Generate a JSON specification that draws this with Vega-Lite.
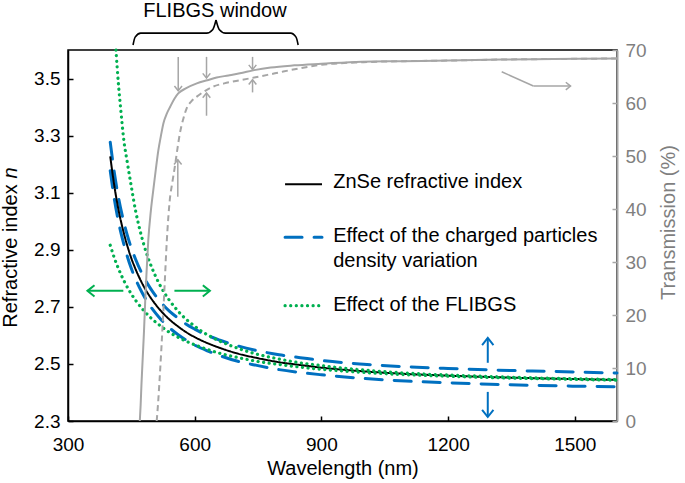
{
"$schema":"https://vega.github.io/schema/vega-lite/v6.json",
"width":549,"height":371,
"autosize":{"type":"none"},
"padding":{"left":68,"top":50,"right":68,"bottom":62},
"background":"white",
"config":{"font":"Liberation Sans","view":{"stroke":"black","strokeWidth":1.5},
"axis":{"grid":false,"labelFontSize":19,"titleFontSize":20,"titleFontWeight":"normal","labelFlush":false,"tickSize":-5,"domainWidth":1.5,"tickWidth":1.5,"labelOverlap":false}},
"datasets":{
"curves":[
{"series":"charged","curve":"bu","wl":400,"n":3.277},{"series":"charged","curve":"bu","wl":410,"n":3.167},{"series":"charged","curve":"bu","wl":420,"n":3.079},{"series":"charged","curve":"bu","wl":430,"n":3.010},{"series":"charged","curve":"bu","wl":440,"n":2.953},{"series":"charged","curve":"bu","wl":450,"n":2.906},{"series":"charged","curve":"bu","wl":460,"n":2.867},{"series":"charged","curve":"bu","wl":475,"n":2.817},{"series":"charged","curve":"bu","wl":490,"n":2.777},{"series":"charged","curve":"bu","wl":500,"n":2.754},{"series":"charged","curve":"bu","wl":520,"n":2.716},{"series":"charged","curve":"bu","wl":540,"n":2.685},{"series":"charged","curve":"bu","wl":560,"n":2.661},{"series":"charged","curve":"bu","wl":580,"n":2.639},{"series":"charged","curve":"bu","wl":600,"n":2.622},{"series":"charged","curve":"bu","wl":630,"n":2.600},{"series":"charged","curve":"bu","wl":660,"n":2.583},{"series":"charged","curve":"bu","wl":700,"n":2.564},{"series":"charged","curve":"bu","wl":750,"n":2.546},{"series":"charged","curve":"bu","wl":800,"n":2.532},{"series":"charged","curve":"bu","wl":850,"n":2.522},{"series":"charged","curve":"bu","wl":900,"n":2.512},{"series":"charged","curve":"bu","wl":1000,"n":2.499},{"series":"charged","curve":"bu","wl":1100,"n":2.490},{"series":"charged","curve":"bu","wl":1200,"n":2.484},{"series":"charged","curve":"bu","wl":1300,"n":2.479},{"series":"charged","curve":"bu","wl":1400,"n":2.475},{"series":"charged","curve":"bu","wl":1500,"n":2.472},{"series":"charged","curve":"bu","wl":1600,"n":2.468},
{"series":"charged","curve":"bl","wl":400,"n":3.177},{"series":"charged","curve":"bl","wl":410,"n":3.075},{"series":"charged","curve":"bl","wl":420,"n":2.995},{"series":"charged","curve":"bl","wl":430,"n":2.932},{"series":"charged","curve":"bl","wl":440,"n":2.879},{"series":"charged","curve":"bl","wl":450,"n":2.834},{"series":"charged","curve":"bl","wl":460,"n":2.797},{"series":"charged","curve":"bl","wl":475,"n":2.751},{"series":"charged","curve":"bl","wl":490,"n":2.713},{"series":"charged","curve":"bl","wl":500,"n":2.692},{"series":"charged","curve":"bl","wl":520,"n":2.656},{"series":"charged","curve":"bl","wl":540,"n":2.627},{"series":"charged","curve":"bl","wl":560,"n":2.603},{"series":"charged","curve":"bl","wl":580,"n":2.583},{"series":"charged","curve":"bl","wl":600,"n":2.566},{"series":"charged","curve":"bl","wl":630,"n":2.546},{"series":"charged","curve":"bl","wl":660,"n":2.529},{"series":"charged","curve":"bl","wl":700,"n":2.510},{"series":"charged","curve":"bl","wl":750,"n":2.494},{"series":"charged","curve":"bl","wl":800,"n":2.480},{"series":"charged","curve":"bl","wl":850,"n":2.470},{"series":"charged","curve":"bl","wl":900,"n":2.462},{"series":"charged","curve":"bl","wl":1000,"n":2.449},{"series":"charged","curve":"bl","wl":1100,"n":2.440},{"series":"charged","curve":"bl","wl":1200,"n":2.434},{"series":"charged","curve":"bl","wl":1300,"n":2.429},{"series":"charged","curve":"bl","wl":1400,"n":2.425},{"series":"charged","curve":"bl","wl":1500,"n":2.422},{"series":"charged","curve":"bl","wl":1600,"n":2.420},
{"series":"charged","curve":"leg","wl":814,"n":2.944},{"series":"charged","curve":"leg","wl":901.5,"n":2.944},
{"series":"ZnSe","curve":"k","wl":400,"n":3.227},{"series":"ZnSe","curve":"k","wl":410,"n":3.121},{"series":"ZnSe","curve":"k","wl":420,"n":3.037},{"series":"ZnSe","curve":"k","wl":430,"n":2.971},{"series":"ZnSe","curve":"k","wl":440,"n":2.916},{"series":"ZnSe","curve":"k","wl":450,"n":2.870},{"series":"ZnSe","curve":"k","wl":460,"n":2.832},{"series":"ZnSe","curve":"k","wl":475,"n":2.784},{"series":"ZnSe","curve":"k","wl":490,"n":2.745},{"series":"ZnSe","curve":"k","wl":500,"n":2.723},{"series":"ZnSe","curve":"k","wl":520,"n":2.686},{"series":"ZnSe","curve":"k","wl":540,"n":2.656},{"series":"ZnSe","curve":"k","wl":560,"n":2.632},{"series":"ZnSe","curve":"k","wl":580,"n":2.611},{"series":"ZnSe","curve":"k","wl":600,"n":2.594},{"series":"ZnSe","curve":"k","wl":630,"n":2.573},{"series":"ZnSe","curve":"k","wl":660,"n":2.556},{"series":"ZnSe","curve":"k","wl":700,"n":2.537},{"series":"ZnSe","curve":"k","wl":750,"n":2.520},{"series":"ZnSe","curve":"k","wl":800,"n":2.506},{"series":"ZnSe","curve":"k","wl":850,"n":2.496},{"series":"ZnSe","curve":"k","wl":900,"n":2.487},{"series":"ZnSe","curve":"k","wl":1000,"n":2.474},{"series":"ZnSe","curve":"k","wl":1100,"n":2.465},{"series":"ZnSe","curve":"k","wl":1200,"n":2.459},{"series":"ZnSe","curve":"k","wl":1300,"n":2.454},{"series":"ZnSe","curve":"k","wl":1400,"n":2.450},{"series":"ZnSe","curve":"k","wl":1500,"n":2.447},{"series":"ZnSe","curve":"k","wl":1600,"n":2.444},
{"series":"ZnSe","curve":"leg","wl":814,"n":3.130},{"series":"ZnSe","curve":"leg","wl":901.5,"n":3.130},
{"series":"FLIBGS","curve":"gr","wl":413.5,"n":3.600},{"series":"FLIBGS","curve":"gr","wl":420,"n":3.470},{"series":"FLIBGS","curve":"gr","wl":425,"n":3.390},{"series":"FLIBGS","curve":"gr","wl":432,"n":3.286},{"series":"FLIBGS","curve":"gr","wl":440,"n":3.210},{"series":"FLIBGS","curve":"gr","wl":450,"n":3.121},{"series":"FLIBGS","curve":"gr","wl":460,"n":3.037},{"series":"FLIBGS","curve":"gr","wl":470,"n":2.971},{"series":"FLIBGS","curve":"gr","wl":480,"n":2.916},{"series":"FLIBGS","curve":"gr","wl":490,"n":2.870},{"series":"FLIBGS","curve":"gr","wl":500,"n":2.832},{"series":"FLIBGS","curve":"gr","wl":515,"n":2.784},{"series":"FLIBGS","curve":"gr","wl":530,"n":2.745},{"series":"FLIBGS","curve":"gr","wl":540,"n":2.723},{"series":"FLIBGS","curve":"gr","wl":560,"n":2.686},{"series":"FLIBGS","curve":"gr","wl":580,"n":2.656},{"series":"FLIBGS","curve":"gr","wl":600,"n":2.632},{"series":"FLIBGS","curve":"gr","wl":620,"n":2.611},{"series":"FLIBGS","curve":"gr","wl":640,"n":2.594},{"series":"FLIBGS","curve":"gr","wl":670,"n":2.573},{"series":"FLIBGS","curve":"gr","wl":700,"n":2.556},{"series":"FLIBGS","curve":"gr","wl":740,"n":2.537},{"series":"FLIBGS","curve":"gr","wl":790,"n":2.520},{"series":"FLIBGS","curve":"gr","wl":840,"n":2.506},{"series":"FLIBGS","curve":"gr","wl":890,"n":2.496},{"series":"FLIBGS","curve":"gr","wl":940,"n":2.487},{"series":"FLIBGS","curve":"gr","wl":1040,"n":2.474},{"series":"FLIBGS","curve":"gr","wl":1140,"n":2.465},{"series":"FLIBGS","curve":"gr","wl":1240,"n":2.459},{"series":"FLIBGS","curve":"gr","wl":1340,"n":2.454},{"series":"FLIBGS","curve":"gr","wl":1440,"n":2.450},{"series":"FLIBGS","curve":"gr","wl":1540,"n":2.447},{"series":"FLIBGS","curve":"gr","wl":1600,"n":2.445},
{"series":"FLIBGS","curve":"gl","wl":400,"n":2.916},{"series":"FLIBGS","curve":"gl","wl":410,"n":2.870},{"series":"FLIBGS","curve":"gl","wl":420,"n":2.832},{"series":"FLIBGS","curve":"gl","wl":435,"n":2.784},{"series":"FLIBGS","curve":"gl","wl":450,"n":2.745},{"series":"FLIBGS","curve":"gl","wl":460,"n":2.723},{"series":"FLIBGS","curve":"gl","wl":480,"n":2.686},{"series":"FLIBGS","curve":"gl","wl":500,"n":2.656},{"series":"FLIBGS","curve":"gl","wl":520,"n":2.632},{"series":"FLIBGS","curve":"gl","wl":540,"n":2.611},{"series":"FLIBGS","curve":"gl","wl":560,"n":2.594},{"series":"FLIBGS","curve":"gl","wl":590,"n":2.573},{"series":"FLIBGS","curve":"gl","wl":620,"n":2.556},{"series":"FLIBGS","curve":"gl","wl":660,"n":2.537},{"series":"FLIBGS","curve":"gl","wl":710,"n":2.520},{"series":"FLIBGS","curve":"gl","wl":760,"n":2.506},{"series":"FLIBGS","curve":"gl","wl":810,"n":2.496},{"series":"FLIBGS","curve":"gl","wl":860,"n":2.487},{"series":"FLIBGS","curve":"gl","wl":960,"n":2.474},{"series":"FLIBGS","curve":"gl","wl":1060,"n":2.465},{"series":"FLIBGS","curve":"gl","wl":1160,"n":2.459},{"series":"FLIBGS","curve":"gl","wl":1260,"n":2.454},{"series":"FLIBGS","curve":"gl","wl":1360,"n":2.450},{"series":"FLIBGS","curve":"gl","wl":1460,"n":2.447},{"series":"FLIBGS","curve":"gl","wl":1560,"n":2.444},{"series":"FLIBGS","curve":"gl","wl":1600,"n":2.443},
{"series":"FLIBGS","curve":"leg","wl":814,"n":2.704},{"series":"FLIBGS","curve":"leg","wl":901.5,"n":2.704}
],
"legendText":[
{"label":"ZnSe refractive index","wl":928,"n":3.136},
{"label":"Effect of the charged particles","wl":928,"n":2.948},
{"label":"density variation","wl":928,"n":2.862},
{"label":"Effect of the FLIBGS","wl":928,"n":2.708}
],
"arrowsN":[
{"series":"FLIBGS","wl":431,"n":2.756,"wl2":346,"n2":2.756,"dir":"left"},
{"series":"FLIBGS","wl":552,"n":2.756,"wl2":636,"n2":2.756,"dir":"right"},
{"series":"charged","wl":1294,"n":2.504,"wl2":1294,"n2":2.591,"dir":"up"},
{"series":"charged","wl":1294,"n":2.402,"wl2":1294,"n2":2.314,"dir":"down"}
],
"brace":[
{"half":"L","wl":454,"n":3.6175},{"half":"L","wl":459,"n":3.645},{"half":"L","wl":472,"n":3.659},{"half":"L","wl":628,"n":3.659},{"half":"L","wl":643,"n":3.672},{"half":"L","wl":650.5,"n":3.705},
{"half":"R","wl":650.5,"n":3.705},{"half":"R","wl":658,"n":3.672},{"half":"R","wl":673,"n":3.659},{"half":"R","wl":827,"n":3.659},{"half":"R","wl":840,"n":3.645},{"half":"R","wl":845,"n":3.6175}
],
"windowLabel":[{"label":"FLIBGS window","wl":648,"n":3.735}],
"italicN":[{"label":"n","wl":165,"n":3.169}],
"trans":[
{"curve":"solid","wl":470,"T":0},{"curve":"solid","wl":472,"T":3},{"curve":"solid","wl":474,"T":7},{"curve":"solid","wl":477,"T":12},{"curve":"solid","wl":480,"T":17},{"curve":"solid","wl":483,"T":23},{"curve":"solid","wl":486,"T":28},{"curve":"solid","wl":490,"T":34},{"curve":"solid","wl":496,"T":39.5},{"curve":"solid","wl":502,"T":43.6},{"curve":"solid","wl":508,"T":47.5},{"curve":"solid","wl":514,"T":51.1},{"curve":"solid","wl":520,"T":53.8},{"curve":"solid","wl":526,"T":56.2},{"curve":"solid","wl":534,"T":58},{"curve":"solid","wl":542,"T":59.3},{"curve":"solid","wl":552,"T":60.8},{"curve":"solid","wl":561,"T":61.8},{"curve":"solid","wl":580,"T":62.8},{"curve":"solid","wl":605,"T":63.7},{"curve":"solid","wl":630,"T":64.3},{"curve":"solid","wl":652,"T":64.8},{"curve":"solid","wl":680,"T":65.2},{"curve":"solid","wl":707,"T":65.6},{"curve":"solid","wl":741,"T":66.2},{"curve":"solid","wl":780,"T":66.7},{"curve":"solid","wl":836,"T":67.1},{"curve":"solid","wl":900,"T":67.4},{"curve":"solid","wl":995,"T":67.8},{"curve":"solid","wl":1090,"T":67.9},{"curve":"solid","wl":1200,"T":68.0},{"curve":"solid","wl":1327,"T":68.2},{"curve":"solid","wl":1450,"T":68.3},{"curve":"solid","wl":1600,"T":68.4},
{"curve":"dashed","wl":510,"T":0},{"curve":"dashed","wl":513,"T":3},{"curve":"dashed","wl":517,"T":8},{"curve":"dashed","wl":521,"T":13.5},{"curve":"dashed","wl":525,"T":19.5},{"curve":"dashed","wl":529,"T":26},{"curve":"dashed","wl":534,"T":34},{"curve":"dashed","wl":541,"T":41.7},{"curve":"dashed","wl":547,"T":45},{"curve":"dashed","wl":553,"T":48},{"curve":"dashed","wl":559,"T":51.3},{"curve":"dashed","wl":565,"T":54.3},{"curve":"dashed","wl":573,"T":57},{"curve":"dashed","wl":581,"T":59},{"curve":"dashed","wl":592,"T":60.3},{"curve":"dashed","wl":605,"T":61.2},{"curve":"dashed","wl":625,"T":62.3},{"curve":"dashed","wl":644,"T":63.1},{"curve":"dashed","wl":670,"T":63.7},{"curve":"dashed","wl":707,"T":64.3},{"curve":"dashed","wl":741,"T":64.8},{"curve":"dashed","wl":790,"T":65.6},{"curve":"dashed","wl":852,"T":66.6},{"curve":"dashed","wl":900,"T":67.2},{"curve":"dashed","wl":1000,"T":67.7},{"curve":"dashed","wl":1100,"T":67.9},{"curve":"dashed","wl":1200,"T":68.0},{"curve":"dashed","wl":1327,"T":68.2},{"curve":"dashed","wl":1450,"T":68.3},{"curve":"dashed","wl":1600,"T":68.4}
],
"arrowsT":[
{"wl":561,"T":68.7,"wl2":561,"T2":62.3,"dir":"down"},
{"wl":628,"T":68.7,"wl2":628,"T2":64.7,"dir":"down"},
{"wl":737,"T":68.7,"wl2":737,"T2":66.3,"dir":"down"},
{"wl":560,"T":42.3,"wl2":560,"T2":49.3,"dir":"up"},
{"wl":628,"T":57.6,"wl2":628,"T2":61.9,"dir":"up"},
{"wl":737,"T":62.0,"wl2":737,"T2":64.4,"dir":"up"},
{"wl":1327,"T":65.9,"wl2":1402,"T2":63.2,"dir":"none"},
{"wl":1402,"T":63.2,"wl2":1490,"T2":63.2,"dir":"right"}
]
},
"layer":[
{"layer":[
{"data":{"name":"curves"},"transform":[{"filter":"datum.series=='charged'"}],
"mark":{"type":"line","interpolate":"monotone","strokeWidth":3,"strokeCap":"round"},
"encoding":{
"x":{"field":"wl","type":"quantitative","scale":{"domain":[300,1600]},"axis":{"values":[300,600,900,1200,1500],"format":"d","title":"Wavelength (nm)","labelPadding":19,"titlePadding":4,"domainColor":"black","tickColor":"black","labelColor":"black","titleColor":"black"}},
"y":{"field":"n","type":"quantitative","scale":{"domain":[2.3,3.6]},"axis":{"orient":"left","values":[2.3,2.5,2.7,2.9,3.1,3.3,3.5],"format":".1f","title":"Refractive index","titleY":205.5,"labelPadding":13,"titlePadding":13,"domainColor":"black","tickColor":"black","labelColor":"black","titleColor":"black"}},
"color":{"field":"series","type":"nominal","scale":{"domain":["ZnSe","charged","FLIBGS"],"range":["#000000","#0070c0","#00b050"]},"legend":null},
"strokeDash":{"field":"series","type":"nominal","scale":{"domain":["ZnSe","charged","FLIBGS"],"range":[[1,0],[17,12],[0.1,5.5]]},"legend":null},
"detail":{"field":"curve","type":"nominal"}}},
{"data":{"name":"curves"},"transform":[{"filter":"datum.series=='ZnSe'"}],
"mark":{"type":"line","interpolate":"monotone","strokeWidth":2},
"encoding":{
"x":{"field":"wl","type":"quantitative"},
"y":{"field":"n","type":"quantitative"},
"color":{"field":"series","type":"nominal","legend":null},
"strokeDash":{"field":"series","type":"nominal","legend":null},
"detail":{"field":"curve","type":"nominal"}}},
{"data":{"name":"curves"},"transform":[{"filter":"datum.series=='FLIBGS'"}],
"mark":{"type":"line","interpolate":"monotone","strokeWidth":3.2,"strokeCap":"round"},
"encoding":{
"x":{"field":"wl","type":"quantitative"},
"y":{"field":"n","type":"quantitative"},
"color":{"field":"series","type":"nominal","legend":null},
"strokeDash":{"field":"series","type":"nominal","legend":null},
"detail":{"field":"curve","type":"nominal"}}},
{"data":{"name":"legendText"},
"mark":{"type":"text","align":"left","baseline":"middle","fontSize":20,"color":"black"},
"encoding":{
"x":{"field":"wl","type":"quantitative"},
"y":{"field":"n","type":"quantitative"},
"text":{"field":"label"}}},
{"data":{"name":"italicN"},
"mark":{"type":"text","align":"center","baseline":"middle","fontSize":20,"fontStyle":"italic","angle":270,"color":"black"},
"encoding":{
"x":{"field":"wl","type":"quantitative"},
"y":{"field":"n","type":"quantitative"},
"text":{"field":"label"}}},
{"data":{"name":"arrowsN"},
"mark":{"type":"rule","strokeWidth":2},
"encoding":{
"x":{"field":"wl","type":"quantitative"},
"y":{"field":"n","type":"quantitative"},
"x2":{"field":"wl2"},"y2":{"field":"n2"},
"color":{"field":"series","type":"nominal","legend":null}}},
{"data":{"name":"arrowsN"},"transform":[{"filter":"datum.dir=='left'"}],
"mark":{"type":"point","shape":"M-1,-0.8L0,0L-1,0.8","filled":false,"opacity":1,"strokeWidth":2,"size":200,"angle":180},
"encoding":{"x":{"field":"wl2","type":"quantitative"},"y":{"field":"n2","type":"quantitative"},"color":{"field":"series","type":"nominal","legend":null}}},
{"data":{"name":"arrowsN"},"transform":[{"filter":"datum.dir=='right'"}],
"mark":{"type":"point","shape":"M-1,-0.8L0,0L-1,0.8","filled":false,"opacity":1,"strokeWidth":2,"size":200,"angle":0},
"encoding":{"x":{"field":"wl2","type":"quantitative"},"y":{"field":"n2","type":"quantitative"},"color":{"field":"series","type":"nominal","legend":null}}},
{"data":{"name":"arrowsN"},"transform":[{"filter":"datum.dir=='up'"}],
"mark":{"type":"point","shape":"M-1,-0.8L0,0L-1,0.8","filled":false,"opacity":1,"strokeWidth":2,"size":200,"angle":270},
"encoding":{"x":{"field":"wl2","type":"quantitative"},"y":{"field":"n2","type":"quantitative"},"color":{"field":"series","type":"nominal","legend":null}}},
{"data":{"name":"arrowsN"},"transform":[{"filter":"datum.dir=='down'"}],
"mark":{"type":"point","shape":"M-1,-0.8L0,0L-1,0.8","filled":false,"opacity":1,"strokeWidth":2,"size":200,"angle":90},
"encoding":{"x":{"field":"wl2","type":"quantitative"},"y":{"field":"n2","type":"quantitative"},"color":{"field":"series","type":"nominal","legend":null}}},
{"data":{"name":"brace"},
"mark":{"type":"line","interpolate":"monotone","color":"black","strokeWidth":1.6},
"encoding":{"x":{"field":"wl","type":"quantitative"},"y":{"field":"n","type":"quantitative"},"detail":{"field":"half","type":"nominal"}}},
{"data":{"name":"windowLabel"},
"mark":{"type":"text","align":"center","baseline":"middle","fontSize":20,"color":"black"},
"encoding":{"x":{"field":"wl","type":"quantitative"},"y":{"field":"n","type":"quantitative"},"text":{"field":"label"}}}
]},
{"layer":[
{"data":{"name":"trans"},"transform":[{"filter":"datum.curve=='solid'"}],
"mark":{"type":"line","interpolate":"monotone","color":"#a6a6a6","strokeWidth":2},
"encoding":{
"x":{"field":"wl","type":"quantitative"},
"y":{"field":"T","type":"quantitative","scale":{"domain":[0,70]},"axis":{"orient":"right","values":[0,10,20,30,40,50,60,70],"title":"Transmission (%)","titleAngle":-90,"titleBaseline":"top","titleY":172,"labelPadding":13,"titlePadding":12,"domainColor":"#a6a6a6","tickColor":"#a6a6a6","labelColor":"#7f7f7f","titleColor":"#7f7f7f","domainWidth":2}}}},
{"data":{"name":"trans"},"transform":[{"filter":"datum.curve=='dashed'"}],
"mark":{"type":"line","interpolate":"monotone","color":"#a6a6a6","strokeWidth":2,"strokeDash":[6,4]},
"encoding":{
"x":{"field":"wl","type":"quantitative"},
"y":{"field":"T","type":"quantitative"}}},
{"data":{"name":"arrowsT"},
"mark":{"type":"rule","color":"#a6a6a6","strokeWidth":1.5},
"encoding":{"x":{"field":"wl","type":"quantitative"},"y":{"field":"T","type":"quantitative"},"x2":{"field":"wl2"},"y2":{"field":"T2"}}},
{"data":{"name":"arrowsT"},"transform":[{"filter":"datum.dir=='down'"}],
"mark":{"type":"point","shape":"M-1,-0.8L0,0L-1,0.8","filled":false,"opacity":1,"strokeWidth":1.5,"size":90,"angle":90,"color":"#a6a6a6"},
"encoding":{"x":{"field":"wl2","type":"quantitative"},"y":{"field":"T2","type":"quantitative"}}},
{"data":{"name":"arrowsT"},"transform":[{"filter":"datum.dir=='up'"}],
"mark":{"type":"point","shape":"M-1,-0.8L0,0L-1,0.8","filled":false,"opacity":1,"strokeWidth":1.5,"size":90,"angle":270,"color":"#a6a6a6"},
"encoding":{"x":{"field":"wl2","type":"quantitative"},"y":{"field":"T2","type":"quantitative"}}},
{"data":{"name":"arrowsT"},"transform":[{"filter":"datum.dir=='right'"}],
"mark":{"type":"point","shape":"M-1,-0.8L0,0L-1,0.8","filled":false,"opacity":1,"strokeWidth":1.5,"size":90,"angle":0,"color":"#a6a6a6"},
"encoding":{"x":{"field":"wl2","type":"quantitative"},"y":{"field":"T2","type":"quantitative"}}}
]}
],
"resolve":{"scale":{"y":"independent"}}
}
